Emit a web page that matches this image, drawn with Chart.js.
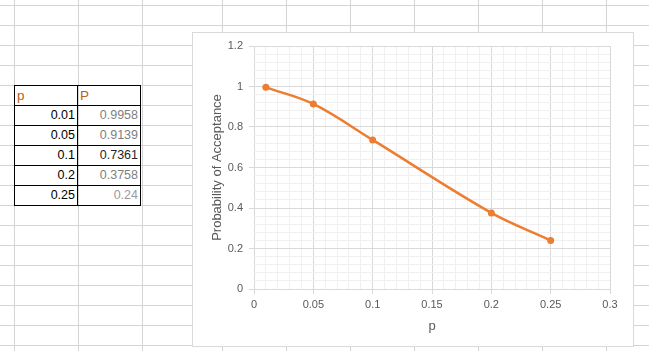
<!DOCTYPE html>
<html>
<head>
<meta charset="utf-8">
<script src="https://cdn.jsdelivr.net/npm/chart.js@4"></script>
<style>
  html, body { margin: 0; padding: 0; background: #fff; overflow: hidden; }
  body { width: 649px; height: 351px; position: relative; font-family: "Liberation Sans", Arial, sans-serif; }
  .hl { position: absolute; left: 0; width: 649px; height: 1px; background: #d4d4d4; }
  .vl { position: absolute; top: 0; width: 1px; height: 351px; background: #d4d4d4; }
  #tbl { position: absolute; left: 14px; top: 85px; border-collapse: collapse; font-size: 12.5px; }
  #tbl td { border: 1px solid #000; width: 63px; height: 19px; padding: 0 2px 0 2px; box-sizing: border-box; line-height: 19px; text-align: right; color: #000; }
  #tbl td.h { text-align: left; color: #c55a11; font-size: 13.5px; }
  #box { position: absolute; left: 192px; top: 32px; width: 442px; height: 315px; box-sizing: border-box; border: 1px solid #d9d9d9; background: #fff; }
  #c { display: block; }
</style>
</head>
<body>
<div id="grid"></div>
<table id="tbl"></table>
<div id="box"><canvas id="c" width="440" height="313"></canvas></div>
<script>
// ---- data ----
const headers = ["p", "P"];
const pValues = [0.01, 0.05, 0.1, 0.2, 0.25];
const paValues = [0.9958, 0.9139, 0.7361, 0.3758, 0.24];
const paLabels = ["0.9958", "0.9139", "0.7361", "0.3758", "0.24"];
const xTitle = "p";
const yTitle = "Probability of Acceptance";

// ---- spreadsheet background ----
const grid = document.getElementById('grid');
for (let y = 5; y < 351; y += 20) {
  const d = document.createElement('div'); d.className = 'hl'; d.style.top = y + 'px'; grid.appendChild(d);
}
[14, 78, 142, 222, 286, 350, 414, 478, 542, 606].forEach(x => {
  const d = document.createElement('div'); d.className = 'vl'; d.style.left = x + 'px'; grid.appendChild(d);
});

// ---- table ----
const tbl = document.getElementById('tbl');
const paColors = ["#7f7f7f", "#7f7f7f", "#262626", "#7f7f7f", "#9a9a9a"];
let html = '<tr><td class="h">' + headers[0] + '</td><td class="h">' + headers[1] + '</td></tr>';
pValues.forEach((p, i) => {
  html += '<tr><td>' + p + '</td><td style="color:' + paColors[i] + '">' + paLabels[i] + '</td></tr>';
});
tbl.innerHTML = html;

// ---- chart ----
const MAJOR = '#d9d9d9', MINOR = '#f0f0f0';
const isMajorX = v => Math.round(v * 100) % 5 === 0;
const isMajorY = v => Math.round(v * 100) % 20 === 0;
const fmt = v => String(+v.toFixed(2));

new Chart(document.getElementById('c'), {
  type: 'scatter',
  data: {
    datasets: [{
      data: pValues.map((p, i) => ({ x: p, y: paValues[i] })),
      showLine: true,
      borderColor: '#ed7d31',
      backgroundColor: '#ed7d31',
      borderWidth: 2.5,
      pointRadius: 3.5,
      pointHoverRadius: 3.5,
      pointBorderWidth: 0,
      tension: 0.35
    }]
  },
  options: {
    responsive: false,
    animation: false,
    devicePixelRatio: 1,
    layout: { padding: { left: 0, right: 23, top: 13, bottom: 0 } },
    plugins: { legend: { display: false }, tooltip: { enabled: false } },
    scales: {
      x: {
        type: 'linear', min: 0, max: 0.3,
        afterFit: s => { s.height = 57; },
        border: { display: false },
        grid: {
          color: c => isMajorX(c.tick.value) ? MAJOR : MINOR,
          tickColor: c => isMajorX(c.tick.value) ? MAJOR : 'rgba(0,0,0,0)',
          tickLength: 5, lineWidth: 1
        },
        ticks: {
          stepSize: 0.01, autoSkip: false, maxRotation: 0, padding: 4,
          color: '#595959', font: { family: 'Liberation Sans', size: 11 },
          callback: v => isMajorX(v) ? fmt(v) : ''
        },
        title: { display: true, text: xTitle, color: '#595959', font: { family: 'Liberation Sans', size: 13 }, padding: { top: 0, bottom: 12 } }
      },
      y: {
        type: 'linear', min: 0, max: 1.2,
        afterFit: s => { s.width = 61; },
        border: { display: false },
        grid: {
          color: c => isMajorY(c.tick.value) ? MAJOR : MINOR,
          tickColor: c => isMajorY(c.tick.value) ? MAJOR : 'rgba(0,0,0,0)',
          tickLength: 5, lineWidth: 1
        },
        ticks: {
          stepSize: 0.04, autoSkip: false, padding: 6,
          color: '#595959', font: { family: 'Liberation Sans', size: 11 },
          callback: v => isMajorY(v) ? fmt(v) : ''
        },
        title: { display: true, text: yTitle, color: '#595959', font: { family: 'Liberation Sans', size: 13 }, padding: { top: 17, bottom: 0 } }
      }
    }
  }
});
</script>
</body>
</html>
